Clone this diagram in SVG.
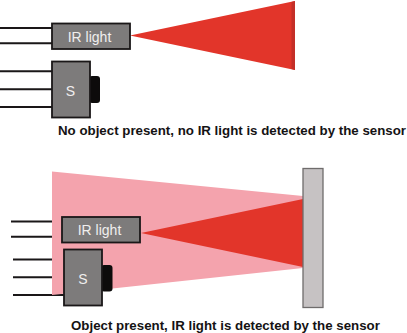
<svg xmlns="http://www.w3.org/2000/svg" width="407" height="333" viewBox="0 0 407 333">
  <style>
    .body { fill: #7d7b7b; stroke: #1a1718; stroke-width: 1.800; }
    .nub { fill: #0d0b0b; }
    .beam { fill: #e2352a; }
    .lead { stroke: #1a1718; stroke-width: 2.100; fill: none; }
    .label { font-family: "Liberation Sans", Arial, sans-serif; font-size: 14px; fill: #f0eeee; text-anchor: middle; }
    .caption { font-family: "Liberation Sans", Arial, sans-serif; font-size: 13.300px; font-weight: bold; fill: #151314; }
  </style>
  <rect width="407" height="333" fill="#ffffff"/>

  <!-- upper scene: empty field -->
  <g id="beam-top">
    <polygon class="beam" points="130,35.500 295,1 295,70"/>
    <polygon points="291.500,2 295,1 295,70 291.500,69" fill="#c42f28"/>
  </g>
  <g id="connectors">
    <path class="lead" d="M0 28H52M0 43.300H52M0 71.200H52M0 89.200H52M0 107H52"/>
    <path class="lead" d="M11 221.500H62M11 236.700H62M13 259.500H64M13 277.300H64M13 295H64"/>
  </g>
  <g id="emitter-top">
    <rect class="body" x="52" y="23.500" width="78" height="25.500"/>
    <text class="label" x="89.500" y="41.500">IR light</text>
  </g>
  <g id="sensor-top">
    <rect class="nub" x="89" y="76" width="11" height="27" rx="3"/>
    <rect class="body" x="52" y="61.500" width="38" height="56"/>
    <text class="label" x="70.500" y="96">S</text>
  </g>
  <text id="caption-top" class="caption" x="58" y="135">No object present, no IR light is detected by the sensor</text>

  <!-- lower scene: reflecting wall -->
  <g id="spread">
    <polygon points="52,171.500 303,196 303,268 52,295" fill="#f4a3ad"/>
  </g>
  <g id="beam-bottom">
    <polygon class="beam" points="141,233 303,199 303,267"/>
  </g>
  <g id="wall">
    <rect x="303" y="168.500" width="20" height="139" fill="#c6c2c3" stroke="#6f6c6c" stroke-width="1.300"/>
  </g>
  <g id="emitter-bottom">
    <rect class="body" x="62" y="217" width="78" height="25.500"/>
    <text class="label" x="99.500" y="235">IR light</text>
  </g>
  <g id="sensor-bottom">
    <rect class="nub" x="101" y="265" width="11.500" height="26.500" rx="3"/>
    <rect class="body" x="64" y="249.500" width="38" height="56"/>
    <text class="label" x="83" y="284">S</text>
  </g>
  <text id="caption-bottom" class="caption" x="71" y="330">Object present, IR light is detected by the sensor</text>
</svg>
